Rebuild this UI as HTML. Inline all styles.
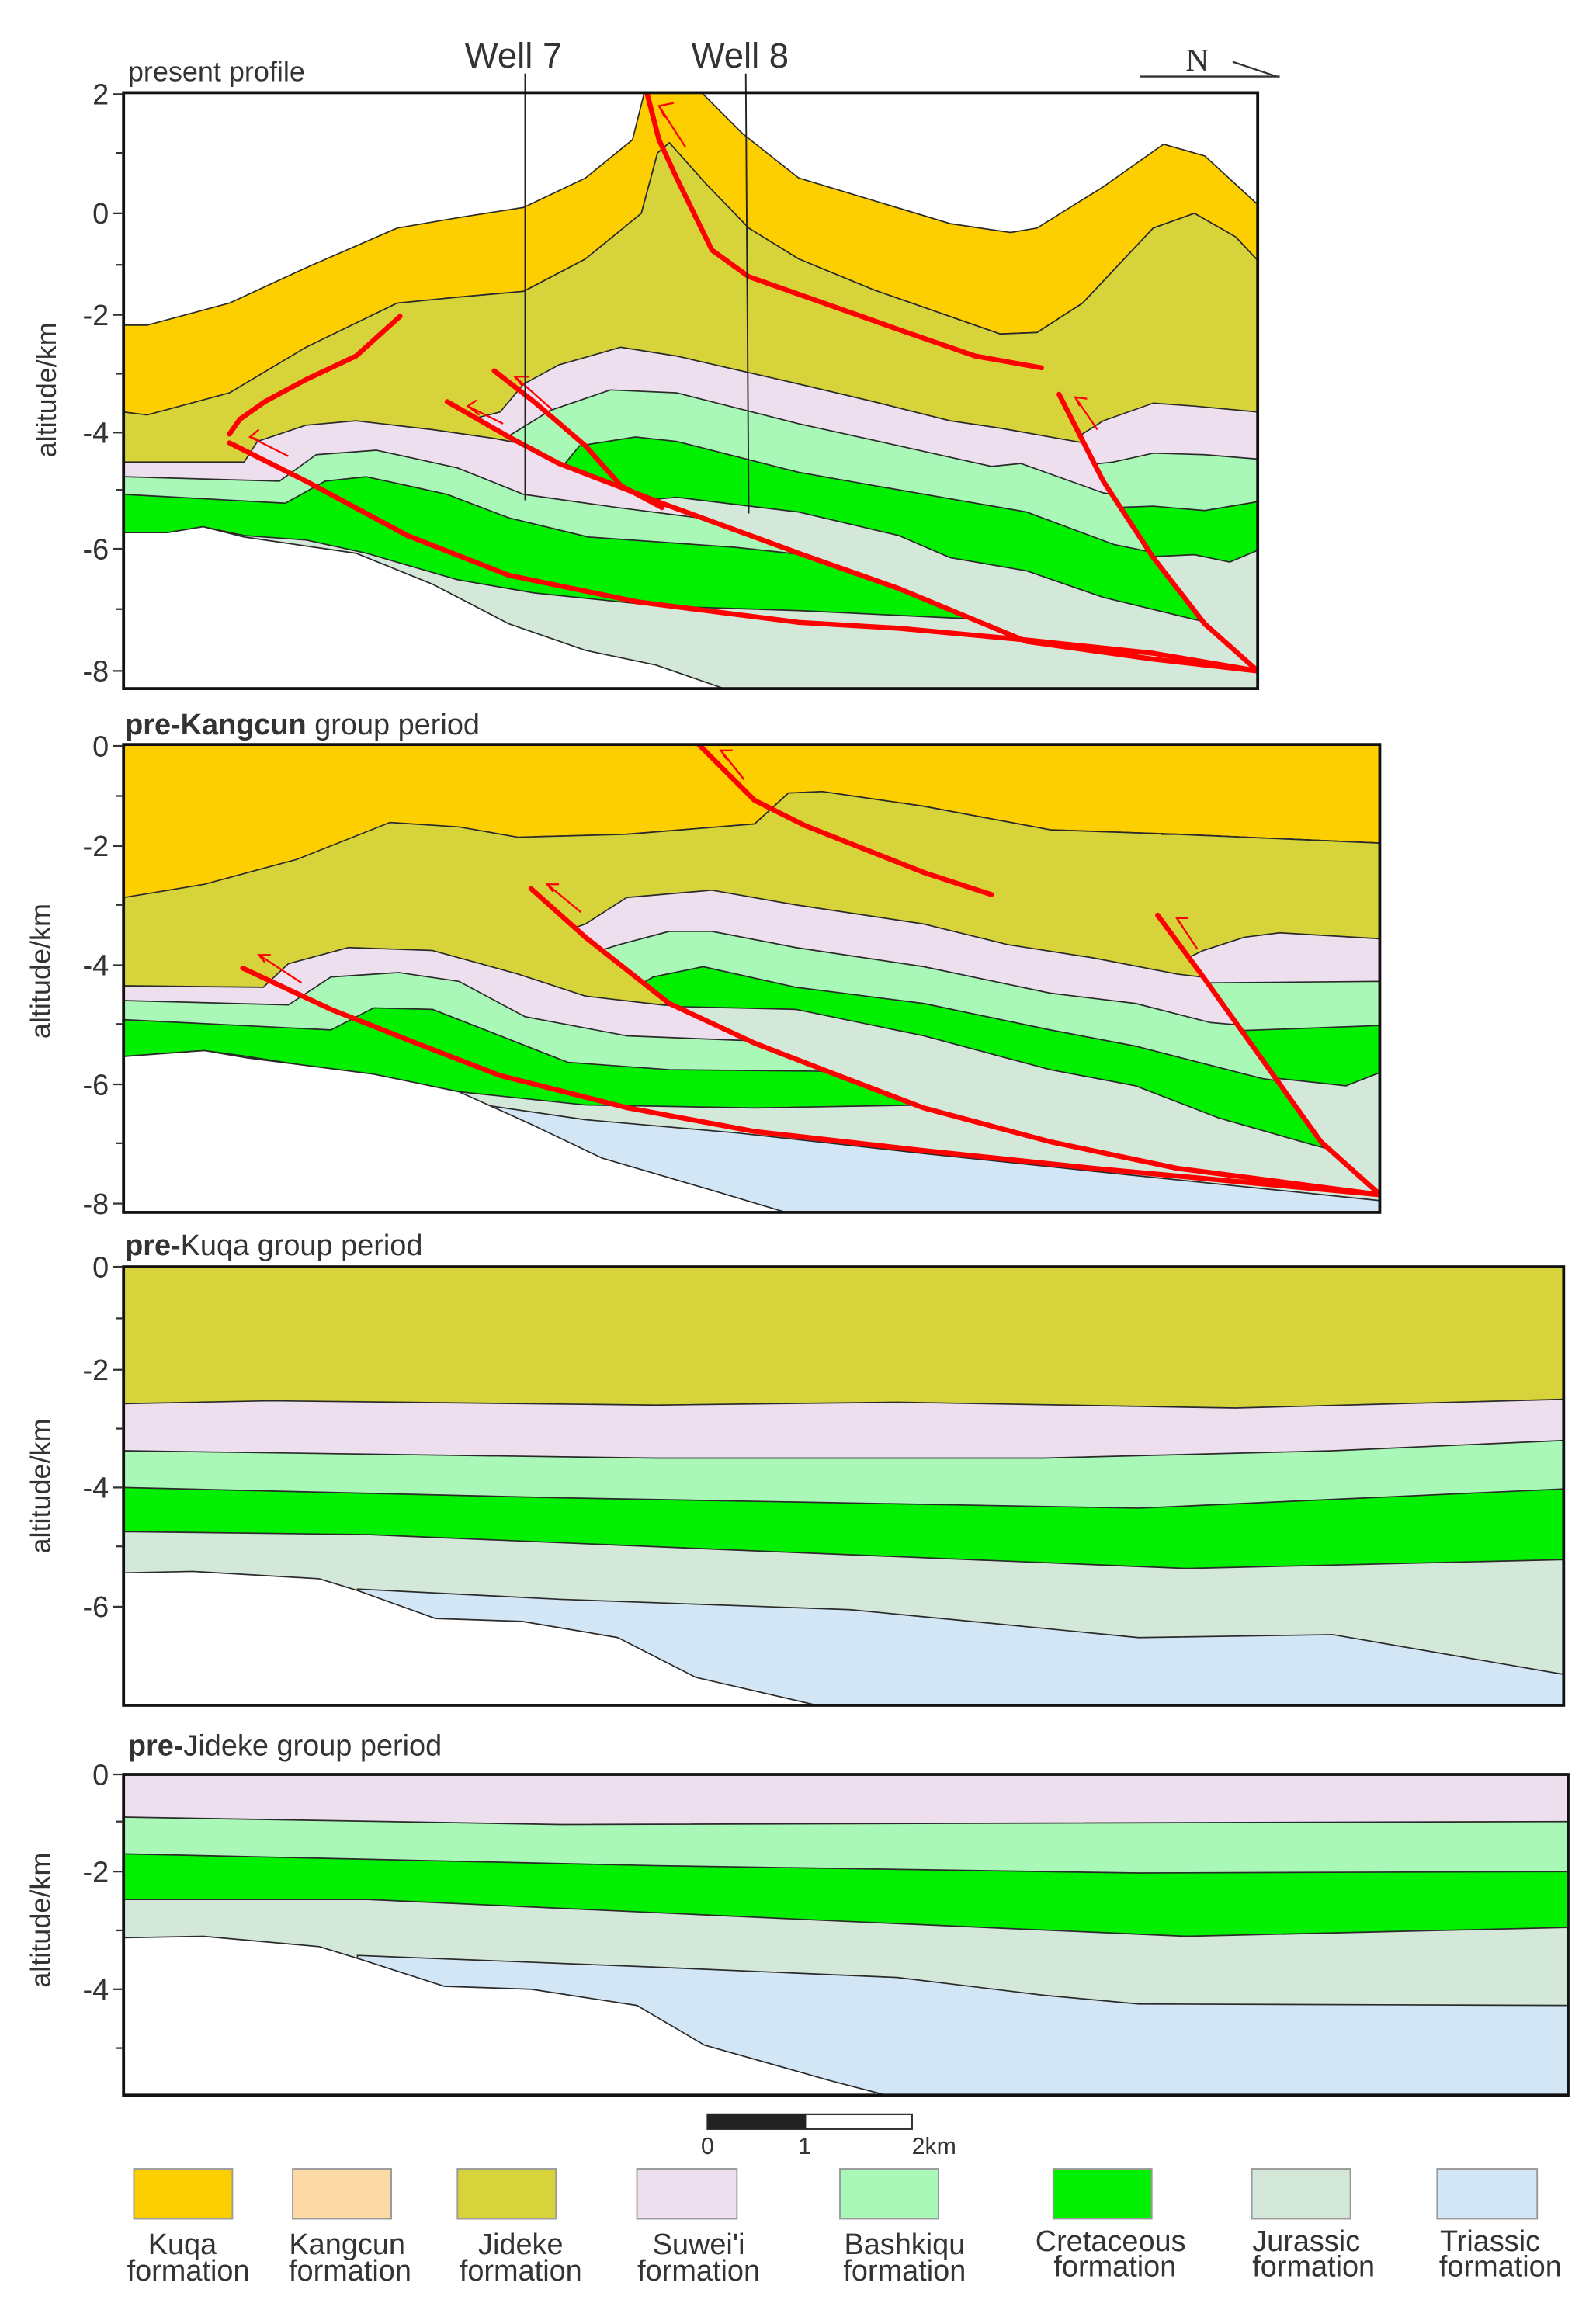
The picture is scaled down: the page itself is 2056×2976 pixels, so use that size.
<!DOCTYPE html>
<html><head><meta charset="utf-8"><style>
html,body{margin:0;padding:0;background:#fff;}
svg{display:block;}
text{font-family:"Liberation Sans",sans-serif;fill:#333;}
</style></head><body>
<svg width="2056" height="2976" viewBox="0 0 1085 1570" preserveAspectRatio="none" xmlns="http://www.w3.org/2000/svg">
<defs>
<clipPath id="b1"><rect x="84" y="63" width="771" height="405"/></clipPath>
<clipPath id="c1B"><polygon points="300,63 304,273 346,297 380,315 450,342 543,376 611,400 698,436 784,448 855,456 855,63"/></clipPath>
<clipPath id="c1R"><polygon points="720,268 750,327 784,379 819,424 855,456 855,63 720,63"/></clipPath>
<clipPath id="b2"><rect x="84" y="506" width="854" height="318"/></clipPath>
<clipPath id="cM"><polygon points="363,506 363,606 398,637 455,682 513,709 570,731 628,753 714,776 800,794 938,814 938,506"/></clipPath>
<clipPath id="cR"><polygon points="789,506 789,624 818,664 858,720 898,776 938,811 938,506"/></clipPath>
<clipPath id="b3"><rect x="84" y="861" width="979" height="298"/></clipPath>
<clipPath id="b4"><rect x="84" y="1206" width="982" height="218"/></clipPath>
</defs>

<!-- ================= PANEL 1 ================= -->
<g clip-path="url(#b1)" stroke="#2a2a2a" stroke-width="0.9" stroke-linejoin="round">
<polygon fill="#FDCF00" points="84,221 100,221 156,206 208,182 270,155 311,148 356,141 398,121 430,95 438,63 477,63 505,91 543,121 646,152 687,158 705,155 750,127 791,98 819,106 855,139 855,470 84,470"/>
<polygon fill="#D6D43A" points="84,280 100,282 156,267 208,236 270,206 311,202 356,198 398,176 436,145 447,104 455,97 480,125 509,155 543,176 594,197 680,227 705,226 736,206 784,155 812,145 840,161 855,177 855,470 84,470"/>
<!-- block A -->
<polygon fill="#EEDFEE" points="84,314 166,314 175,300 208,289 242,286 294,292 336,298 400,310 500,330 855,380 855,470 84,470"/>
<polygon fill="#AAF8B8" points="84,324 190,327 215,309 256,306 311,318 356,336 420,345 855,400 855,470 84,470"/>
<polygon fill="#00F000" points="84,336 194,342 221,327 249,324 304,336 346,352 400,365 500,372 855,410 855,470 84,470"/>
<polygon fill="#D3E8D8" points="84,362 114,362 138,358 166,364 208,367 249,376 311,394 363,403 450,412 543,415 855,430 855,470 84,470"/>
<polygon fill="#ffffff" points="84,362 114,362 138,358 166,365 242,376 294,397 346,424 398,442 446,452 498,470 84,470"/>
</g>
<g clip-path="url(#b1)"><g clip-path="url(#c1B)" stroke="#2a2a2a" stroke-width="0.9" stroke-linejoin="round">
<polygon fill="#D6D43A" points="84,280 100,282 156,267 208,236 270,206 311,202 356,198 398,176 436,145 447,104 455,97 480,125 509,155 543,176 594,197 680,227 705,226 736,206 784,155 812,145 840,161 855,177 855,470 84,470"/>
<polygon fill="#EEDFEE" points="300,290 340,280 356,261 380,248 422,236 460,242 543,261 594,273 646,286 680,291 731,300 855,320 855,470 300,470"/>
<polygon fill="#AAF8B8" points="300,310 340,300 374,279 415,265 460,267 543,288 611,303 674,317 694,315 750,335 855,350 855,470 300,470"/>
<polygon fill="#00F000" points="300,330 380,320 394,303 432,297 460,300 543,321 594,330 646,339 698,348 757,370 855,390 855,470 300,470"/>
<polygon fill="#D3E8D8" points="300,355 380,345 460,338 543,348 611,364 646,379 698,388 750,406 812,421 855,430 855,470 300,470"/>
</g></g>
<g clip-path="url(#b1)"><g clip-path="url(#c1R)" stroke="#2a2a2a" stroke-width="0.9" stroke-linejoin="round">
<polygon fill="#D6D43A" points="700,226 705,226 736,206 784,155 812,145 840,161 855,177 855,470 700,470"/>
<polygon fill="#EEDFEE" points="720,305 750,286 784,274 812,276 855,280 855,470 720,470"/>
<polygon fill="#AAF8B8" points="720,318 757,314 784,308 819,309 855,312 855,470 720,470"/>
<polygon fill="#00F000" points="720,346 757,345 784,344 819,347 855,341 855,470 720,470"/>
<polygon fill="#D3E8D8" points="720,380 767,379 812,377 836,382 855,374 855,470 720,470"/>
</g></g>
<g clip-path="url(#b1)" fill="none" stroke="#f00" stroke-width="3.4" stroke-linecap="round" stroke-linejoin="round">
<polyline points="439,60 448,95 460,121 484,170 509,188 543,200 611,224 663,242 708,250"/>
<polyline points="272,215 242,242 208,258 180,273 163,285 156,295"/>
<polyline points="156,301 208,327 277,364 346,391 433,409 543,423 611,427 698,435 784,444 855,456"/>
<polyline points="304,273 346,297 380,315 450,342 543,376 611,400 698,436 784,448 855,456"/>
<polyline points="336,252 363,273 398,303 422,330 450,345"/>
<polyline points="720,268 750,327 784,379 819,424 855,456"/>
</g>
<g fill="none" stroke="#f00" stroke-width="1.2">
<polyline points="452,80 448,72 458,70"/><line x1="448" y1="72" x2="466" y2="100"/>
<polyline points="324,272 318,276 326,282"/><line x1="318" y1="276" x2="342" y2="288"/>
<polyline points="355,262 350,256 360,256"/><line x1="350" y1="256" x2="375" y2="278"/>
<polyline points="176,299 170,297 176,292"/><line x1="170" y1="297" x2="196" y2="310"/>
<polyline points="734,276 731,270 739,271"/><line x1="731" y1="270" x2="746" y2="292"/>
</g>
<g stroke="#222" stroke-width="1" fill="none">
<line x1="357" y1="50" x2="357" y2="340"/>
<line x1="507" y1="50" x2="509" y2="349"/>
</g>
<rect x="84" y="63" width="771" height="405" fill="none" stroke="#111" stroke-width="2"/>
<text x="316" y="46" font-size="24">Well 7</text>
<text x="470" y="46" font-size="24">Well 8</text>
<text x="87" y="55" font-size="19">present profile</text>
<g stroke="#333" stroke-width="1.2" fill="none">
<line x1="775" y1="52" x2="870" y2="52"/><line x1="838" y1="42" x2="868" y2="52"/>
</g>
<text x="806" y="48" font-size="22" style="font-family:'Liberation Serif',serif">N</text>
<g stroke="#333" stroke-width="1.2">
<line x1="77" y1="64" x2="84" y2="64"/><line x1="79" y1="104" x2="84" y2="104"/>
<line x1="77" y1="145" x2="84" y2="145"/><line x1="79" y1="180" x2="84" y2="180"/>
<line x1="77" y1="214" x2="84" y2="214"/><line x1="79" y1="254" x2="84" y2="254"/>
<line x1="77" y1="294" x2="84" y2="294"/><line x1="79" y1="333" x2="84" y2="333"/>
<line x1="77" y1="373" x2="84" y2="373"/><line x1="79" y1="414" x2="84" y2="414"/>
<line x1="77" y1="456" x2="84" y2="456"/>
</g>
<g font-size="20" text-anchor="end">
<text x="74" y="71">2</text><text x="74" y="152">0</text><text x="74" y="221">-2</text>
<text x="74" y="301">-4</text><text x="74" y="380">-6</text><text x="74" y="463">-8</text>
</g>
<text transform="translate(38,265) rotate(-90)" font-size="19" text-anchor="middle">altitude/km</text>

<!-- ================= PANEL 2 ================= -->
<g clip-path="url(#b2)" stroke="#2a2a2a" stroke-width="0.9" stroke-linejoin="round">
<rect x="84" y="506" width="854" height="318" fill="#FDCF00" stroke="none"/>
<polygon fill="#D6D43A" points="84,610 139,601 202,584 265,559 312,562 352,569 426,567 513,560 536,539 559,538 628,548 714,564 800,567 938,573 938,830 84,830"/>
<polygon fill="#EEDFEE" points="84,670 179,671 196,655 237,644 294,646 352,662 398,677 450,683 560,690 938,700 938,830 84,830"/>
<polygon fill="#AAF8B8" points="84,680 196,683 225,664 271,661 312,667 357,691 426,704 501,707 938,715 938,830 84,830"/>
<polygon fill="#00F000" points="84,693 225,700 254,685 294,686 340,704 386,722 455,727 553,728 938,735 938,830 84,830"/>
<polygon fill="#D3E8D8" points="84,718 139,714 168,718 225,727 312,742 398,751 513,753 628,751 938,760 938,830 84,830"/>
<polygon fill="#D3E6F5" points="168,719 254,731 329,751 398,761 501,770 628,784 743,796 938,816 938,830 84,830"/>
<polygon fill="#ffffff" points="84,718 139,714 168,719 254,730 312,742 363,765 409,787 484,809 541,826 84,830"/>
</g>
<g clip-path="url(#b2)"><g clip-path="url(#cM)" stroke="#2a2a2a" stroke-width="0.9" stroke-linejoin="round">
<polygon fill="#D6D43A" points="84,610 139,601 202,584 265,559 312,562 352,569 426,567 513,560 536,539 559,538 628,548 714,564 800,567 938,573 938,830 84,830"/>
<polygon fill="#EEDFEE" points="363,640 398,628 426,610 484,605 541,615 628,628 685,642 743,651 800,662 850,668 938,680 938,830 363,830"/>
<polygon fill="#AAF8B8" points="363,660 421,642 455,633 484,633 541,644 628,657 714,675 772,682 823,695 938,705 938,830 363,830"/>
<polygon fill="#00F000" points="363,700 400,690 444,664 478,657 541,671 628,682 714,700 772,711 858,733 938,745 938,830 363,830"/>
<polygon fill="#D3E8D8" points="363,700 420,690 455,684 541,686 628,704 714,727 772,738 829,760 892,778 938,790 938,830 363,830"/>
</g></g>
<g clip-path="url(#b2)"><g clip-path="url(#cR)" stroke="#2a2a2a" stroke-width="0.9" stroke-linejoin="round">
<polygon fill="#D6D43A" points="700,567 800,567 938,573 938,830 700,830"/>
<polygon fill="#EEDFEE" points="789,660 818,646 846,637 870,634 938,638 938,830 789,830"/>
<polygon fill="#AAF8B8" points="789,670 823,668 938,667 938,830 789,830"/>
<polygon fill="#00F000" points="789,702 829,701 938,697 938,830 789,830"/>
<polygon fill="#D3E8D8" points="789,733 869,733 915,738 938,729 938,830 789,830"/>
</g></g>
<g clip-path="url(#b2)" fill="none" stroke="#f00" stroke-width="3.4" stroke-linecap="round" stroke-linejoin="round">
<polyline points="475,506 513,544 547,561 628,593 674,608"/>
<polyline points="361,604 398,637 455,682 513,709 570,731 628,753 714,776 800,794 938,812"/>
<polyline points="165,658 225,686 283,709 340,731 427,753 513,769 628,782 743,794 938,812"/>
<polyline points="787,622 818,664 858,720 898,776 936,810"/>
</g>
<g fill="none" stroke="#f00" stroke-width="1.2">
<polyline points="494,516 490,510 498,510"/><line x1="490" y1="510" x2="506" y2="530"/>
<polyline points="376,606 372,601 380,601"/><line x1="372" y1="601" x2="395" y2="620"/>
<polyline points="180,654 176,649 184,649"/><line x1="176" y1="649" x2="205" y2="668"/>
<polyline points="804,630 800,624 808,624"/><line x1="800" y1="624" x2="814" y2="645"/>
</g>
<rect x="84" y="506" width="854" height="318" fill="none" stroke="#111" stroke-width="2"/>
<text x="85" y="499" font-size="20"><tspan font-weight="bold">pre-Kangcun</tspan> group period</text>
<g stroke="#333" stroke-width="1.2">
<line x1="77" y1="507" x2="84" y2="507"/><line x1="79" y1="541" x2="84" y2="541"/>
<line x1="77" y1="575" x2="84" y2="575"/><line x1="79" y1="615" x2="84" y2="615"/>
<line x1="77" y1="656" x2="84" y2="656"/><line x1="79" y1="696" x2="84" y2="696"/>
<line x1="77" y1="737" x2="84" y2="737"/><line x1="79" y1="777" x2="84" y2="777"/>
<line x1="77" y1="818" x2="84" y2="818"/>
</g>
<g font-size="20" text-anchor="end">
<text x="74" y="514">0</text><text x="74" y="582">-2</text><text x="74" y="663">-4</text>
<text x="74" y="744">-6</text><text x="74" y="825">-8</text>
</g>
<text transform="translate(34,660) rotate(-90)" font-size="19" text-anchor="middle">altitude/km</text>

<!-- ================= PANEL 3 ================= -->
<g clip-path="url(#b3)" stroke="#2a2a2a" stroke-width="0.9" stroke-linejoin="round">
<rect x="84" y="861" width="979" height="300" fill="#D6D43A" stroke="none"/>
<polygon fill="#EEDFEE" points="84,954 184,952 446,955 610,953 840,957 1063,951 1063,1165 84,1165"/>
<polygon fill="#AAF8B8" points="84,986 446,991 709,991 906,986 1063,979 1063,1165 84,1165"/>
<polygon fill="#00F000" points="84,1011 381,1018 774,1025 1063,1012 1063,1165 84,1165"/>
<polygon fill="#D3E8D8" points="84,1041 250,1043 512,1054 709,1062 807,1066 1063,1060 1063,1165 84,1165"/>
<polygon fill="#D3E6F5" points="243,1080 381,1087 578,1094 774,1113 906,1111 1063,1138 1063,1165 243,1165"/>
<polygon fill="#ffffff" points="84,1069 131,1068 217,1073 243,1081 296,1100 355,1102 420,1113 473,1140 564,1161 84,1165"/>
</g>
<rect x="84" y="861" width="979" height="298" fill="none" stroke="#111" stroke-width="2"/>
<text x="85" y="853" font-size="20"><tspan font-weight="bold">pre-</tspan>Kuqa group period</text>
<g stroke="#333" stroke-width="1.2">
<line x1="77" y1="861" x2="84" y2="861"/><line x1="79" y1="896" x2="84" y2="896"/>
<line x1="77" y1="931" x2="84" y2="931"/><line x1="79" y1="971" x2="84" y2="971"/>
<line x1="77" y1="1011" x2="84" y2="1011"/><line x1="79" y1="1051" x2="84" y2="1051"/>
<line x1="77" y1="1092" x2="84" y2="1092"/>
</g>
<g font-size="20" text-anchor="end">
<text x="74" y="868">0</text><text x="74" y="938">-2</text><text x="74" y="1018">-4</text><text x="74" y="1099">-6</text>
</g>
<text transform="translate(34,1010) rotate(-90)" font-size="19" text-anchor="middle">altitude/km</text>

<!-- ================= PANEL 4 ================= -->
<g clip-path="url(#b4)" stroke="#2a2a2a" stroke-width="0.9" stroke-linejoin="round">
<rect x="84" y="1206" width="982" height="220" fill="#EEDFEE" stroke="none"/>
<polygon fill="#AAF8B8" points="84,1235 381,1240 1066,1238 1066,1430 84,1430"/>
<polygon fill="#00F000" points="84,1260 446,1268 774,1273 1066,1272 1066,1430 84,1430"/>
<polygon fill="#D3E8D8" points="84,1291 250,1291 578,1306 807,1316 1066,1310 1066,1430 84,1430"/>
<polygon fill="#D3E6F5" points="243,1329 446,1337 610,1344 709,1356 774,1362 1066,1363 1066,1430 243,1430"/>
<polygon fill="#ffffff" points="84,1317 138,1316 217,1323 243,1331 302,1350 361,1352 433,1363 479,1390 564,1414 610,1426 84,1430"/>
</g>
<rect x="84" y="1206" width="982" height="218" fill="none" stroke="#111" stroke-width="2"/>
<text x="87" y="1193" font-size="20"><tspan font-weight="bold">pre-</tspan>Jideke group period</text>
<g stroke="#333" stroke-width="1.2">
<line x1="77" y1="1206" x2="84" y2="1206"/><line x1="79" y1="1238" x2="84" y2="1238"/>
<line x1="77" y1="1272" x2="84" y2="1272"/><line x1="79" y1="1312" x2="84" y2="1312"/>
<line x1="77" y1="1352" x2="84" y2="1352"/><line x1="79" y1="1392" x2="84" y2="1392"/>
</g>
<g font-size="20" text-anchor="end">
<text x="74" y="1213">0</text><text x="74" y="1279">-2</text><text x="74" y="1359">-4</text>
</g>
<text transform="translate(34,1305) rotate(-90)" font-size="19" text-anchor="middle">altitude/km</text>

<!-- ================= SCALE BAR ================= -->
<rect x="481" y="1437" width="139" height="10" fill="#fff" stroke="#333" stroke-width="1.2"/>
<rect x="481" y="1437" width="67" height="10" fill="#222"/>
<g font-size="16" text-anchor="middle">
<text x="481" y="1464">0</text><text x="547" y="1464">1</text><text x="635" y="1464">2km</text>
</g>

<!-- ================= LEGEND ================= -->
<g stroke="#999" stroke-width="1">
<rect x="91" y="1474" width="67" height="34" fill="#FDCF00"/>
<rect x="199" y="1474" width="67" height="34" fill="#FDD9A6"/>
<rect x="311" y="1474" width="67" height="34" fill="#D6D43A"/>
<rect x="433" y="1474" width="68" height="34" fill="#EEDFEE"/>
<rect x="571" y="1474" width="67" height="34" fill="#AAF8B8"/>
<rect x="716" y="1474" width="67" height="34" fill="#00F000"/>
<rect x="851" y="1474" width="67" height="34" fill="#D3E8D8"/>
<rect x="977" y="1474" width="68" height="34" fill="#D3E6F5"/>
</g>
<g font-size="20" text-anchor="middle">
<text x="124" y="1532">Kuqa</text><text x="128" y="1550">formation</text>
<text x="236" y="1532">Kangcun</text><text x="238" y="1550">formation</text>
<text x="354" y="1532">Jideke</text><text x="354" y="1550">formation</text>
<text x="475" y="1532">Suwei'i</text><text x="475" y="1550">formation</text>
<text x="615" y="1532">Bashkiqu</text><text x="615" y="1550">formation</text>
<text x="755" y="1530">Cretaceous</text><text x="758" y="1547">formation</text>
<text x="888" y="1530">Jurassic</text><text x="893" y="1547">formation</text>
<text x="1013" y="1530">Triassic</text><text x="1020" y="1547">formation</text>
</g>
</svg>
</body></html>
